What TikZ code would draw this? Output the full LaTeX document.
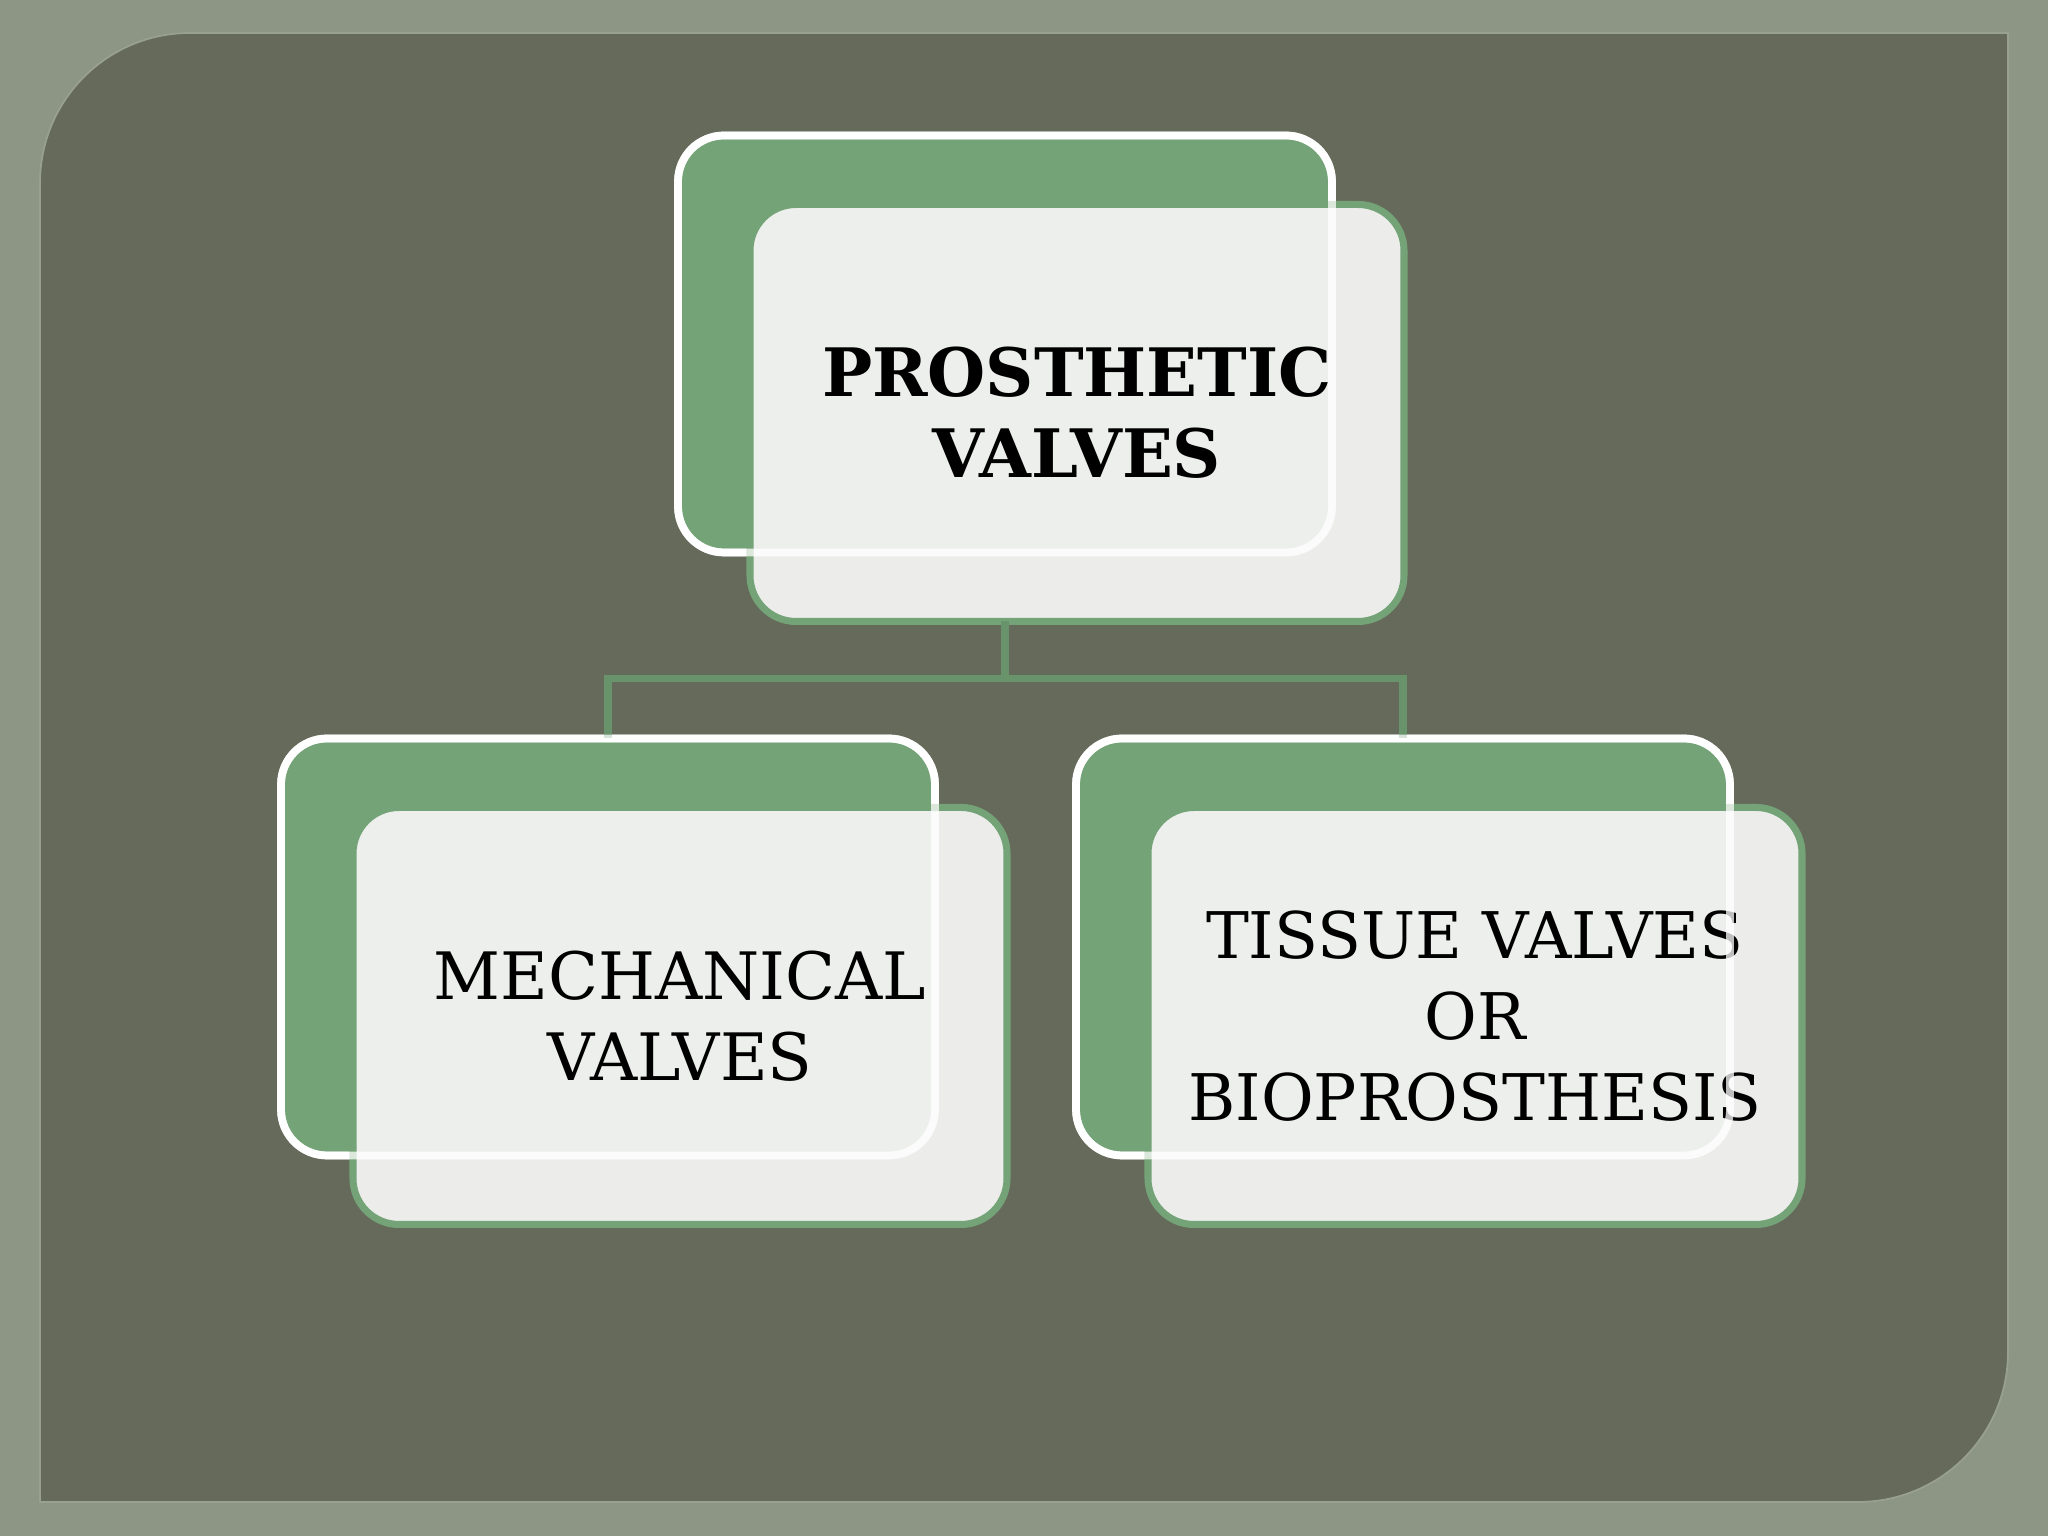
\documentclass[tikz,border=0pt]{standalone}
\usepackage{fontspec}
\setmainfont{DejaVu Serif}
\usetikzlibrary{positioning}
\definecolor{slide_frame}{HTML}{8D9585}
\definecolor{slide_panel}{HTML}{666A5B}
\definecolor{box_green}{HTML}{74A377}
\definecolor{box_light}{HTML}{F1F2F0}
\tikzset{
        boxnode/.style={align=center,inner sep=0pt,outer sep=0pt,rounded corners=0.46cm,
                        minimum width=6.54cm,minimum height=4.17cm},
        % Green boxes at the back
        box_back/.style={boxnode, fill=box_green, draw=white, line width=2.2pt},
        % Light boxes in front
        box_front/.style={boxnode, fill=box_light, fill opacity=0.97, text opacity=1,
                          draw=box_green, line width=2pt},
        % White rim of a back box, seen through the front box
        box_rim/.style={rounded corners=0.46cm, draw=white, line width=2.2pt, opacity=0.75},
        % Lines of the tree
        connector/.style={draw=box_green!90!black, line width=2pt}
}
\begin{document}
\begin{tikzpicture}
    \useasboundingbox (0,0) rectangle (20.48,15.36);
    % background
    \fill[slide_frame] (0,0) rectangle (20.48,15.36);
    \fill[slide_panel, draw=slide_frame!90!white, line width=0.5pt]
        (0.40,0.34) -- (0.40,13.53) arc[start angle=180, end angle=90, radius=1.5]
        -- (20.08,15.03) -- (20.08,1.84) arc[start angle=0, end angle=-90, radius=1.5]
        -- cycle;

    % back boxes
    \node[box_back] (top_back) at (10.05,11.92) {};
    \node[box_back] (left_back) at (6.08,5.89) {};
    \node[box_back] (right_back) at (14.03,5.89) {};

    % front boxes
    \node[box_front, font=\fontsize{19}{23}\selectfont\bfseries]
        (top_front) at ([shift={(0.72,-0.69)}]top_back.center) {PROSTHETIC\\VALVES};
    \node[box_front, font=\fontsize{18.6}{23}\selectfont]
        (left_front) at ([shift={(0.72,-0.69)}]left_back.center) {MECHANICAL\\VALVES};
    \node[box_front, font=\fontsize{18.3}{23}\selectfont]
        (right_front) at ([shift={(0.72,-0.69)}]right_back.center) {TISSUE VALVES\\OR\\BIOPROSTHESIS};

    % tree lines
    \coordinate (fork) at (10.05,8.57);
    \draw[connector] (top_front.south -| fork) -- (fork) -| (left_back.north);
    \draw[connector] (fork) -| (right_back.north);

    % rims
    \foreach \b in {top_back,left_back,right_back}
        \draw[box_rim] (\b.south west) rectangle (\b.north east);
\end{tikzpicture}
\end{document}
